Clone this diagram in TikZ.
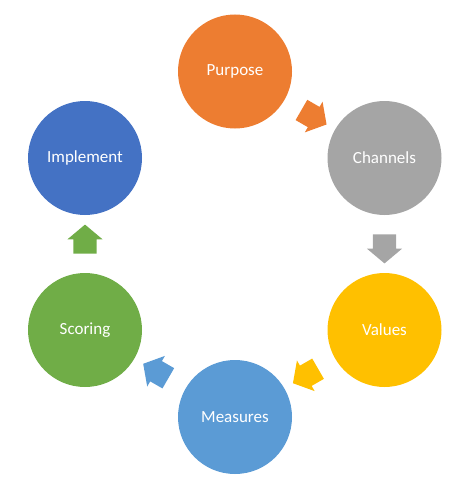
\documentclass[tikz,border=0pt]{standalone}
\usepackage{fontspec}
\setmainfont{Carlito}
\usepackage{tikz}
\usetikzlibrary{shapes,shapes.arrows}
\usetikzlibrary{calc}
\definecolor{officeorange}{HTML}{ED7D31}
\definecolor{officegray}{HTML}{A5A5A5}
\definecolor{officegold}{HTML}{FFC000}
\definecolor{officeblue}{HTML}{5B9BD5}
\definecolor{officegreen}{HTML}{70AD47}
\definecolor{officedarkblue}{HTML}{4472C4}
\tikzstyle{stage}=[circle,draw=none,minimum size=114pt,inner sep=0pt,text=white,font=\fontsize{17}{20}\selectfont]
\tikzstyle{blockarrow}=[single arrow,draw=none,inner xsep=0pt,inner ysep=11.5pt,minimum height=29pt,single arrow head extend=6pt,single arrow tip angle=100]

\begin{document}
\begin{tikzpicture}[x=1pt,y=-1pt]

    \useasboundingbox (0,0) rectangle (474,487);

    \foreach \pos/ \name/ \col/ \text in {{(235,71.5)/purpose/officeorange/Purpose},
        {(384.5,158)/channels/officegray/Channels}, {(384.5,330)/values/officegold/Values},
        {(235,417)/measures/officeblue/Measures}, {(85,330)/scoring/officegreen/Scoring},
        {(85,158)/implement/officedarkblue/Implement}}
        \node[stage,fill=\col] (\name) at \pos {\text};

    % block arrows half way between the stages
    \foreach \source/ \dest/ \col/ \angle in {purpose/channels/officeorange/-30,
        channels/values/officegray/-90, values/measures/officegold/210,
        measures/scoring/officeblue/150, scoring/implement/officegreen/90}
        \node[blockarrow,fill=\col,rotate=\angle] (\source-\dest) at ($(\source)!0.5!(\dest)$) {};

\end{tikzpicture}
\end{document}
